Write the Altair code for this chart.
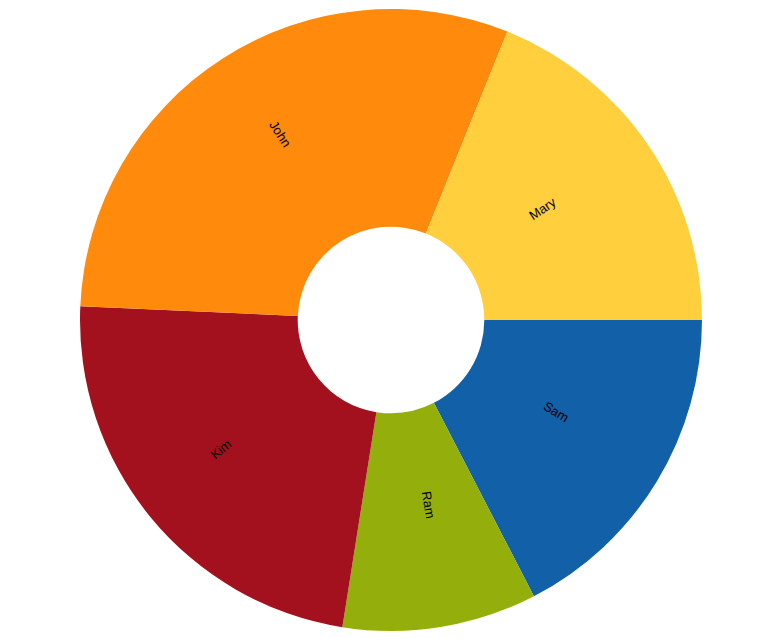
import math
import altair as alt
import pandas as pd

# slices listed clockwise starting at 3 o'clock
names = ["Sam", "Ram", "Kim", "John", "Mary"]
values = [17.4, 10.1, 23.2, 30.4, 18.9]
colors = ["#1260A8", "#94AF0C", "#A3111F", "#FF8A0B", "#FFCF3D"]

df = pd.DataFrame({"name": names, "value": values, "idx": list(range(len(names)))})

start = math.pi / 2
theta = alt.Theta("value:Q", stack=True,
                  scale=alt.Scale(range=[start, start + 2 * math.pi]))
color = alt.Color("name:N", scale=alt.Scale(domain=names, range=colors), legend=None)
order = alt.Order("idx:Q", sort="ascending")

base = alt.Chart(df)

arcs = base.mark_arc(innerRadius=93.3, outerRadius=311, stroke=None).encode(
    theta=theta, color=color, order=order
)

labels = base.transform_window(
    cum="sum(value)", sort=[alt.SortField("idx", order="ascending")], frame=[None, 0]
).transform_joinaggregate(
    total="sum(value)"
).transform_calculate(
    mid="360 * (datum.cum - datum.value / 2) / datum.total"
).transform_calculate(
    rot="(datum.mid > 90 && datum.mid < 270) ? datum.mid + 180 : datum.mid"
).transform_calculate(
    rot2="((datum.rot % 360) + 360) % 360"
).mark_text(
    radius=202.2, align="right", baseline="bottom", fontSize=13,
    font="Liberation Sans", color="#000000"
).encode(
    theta=theta,
    text="name:N",
    angle=alt.Angle("rot2:Q", scale=None),
    order=order,
)

chart = alt.layer(arcs, labels).properties(
    width=764, height=622, background="#ffffff", padding=1
).configure_view(stroke=None)

chart.save("out.html", embed_options={"renderer": "svg", "actions": False})
